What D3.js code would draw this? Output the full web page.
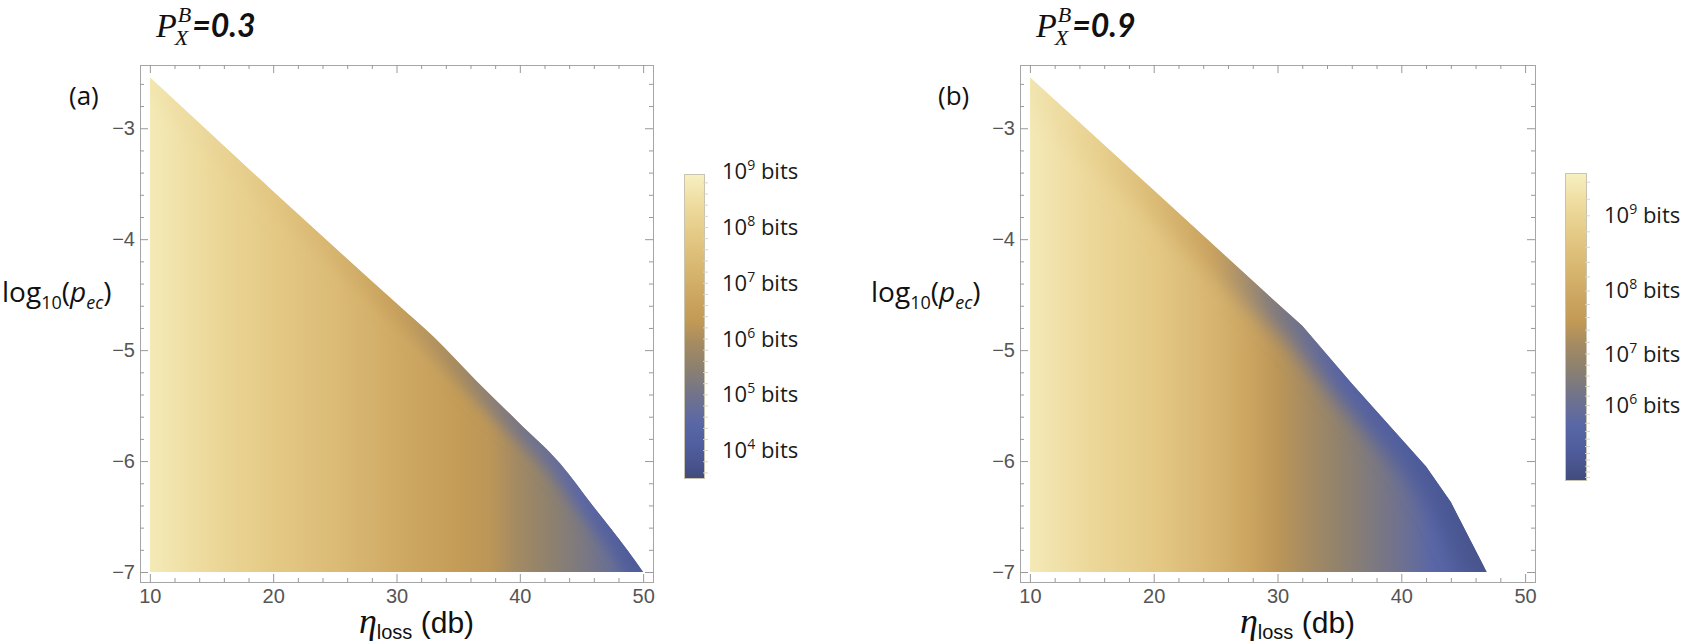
<!DOCTYPE html>
<html lang="en">
<head>
<meta charset="UTF-8">
<title>Secret key bits vs loss and error</title>
<script src="https://cdn.jsdelivr.net/npm/d3@7"></script>
<style>
    html, body { margin: 0; background: #fff; }
    svg { display: block; }
</style>
</head>
<body>
<svg id="chart" width="1694" height="642"></svg>
<script>
// ---- data ----
// panel (a): P_X^B = 0.3
const etaA        = [10, 15, 20, 25, 30, 35, 37.5, 40, 42.5, 45, 47.5, 50];
const bitsBottomA = [8.79, 8.3, 7.86, 7.42, 6.88, 6.39, 6.23, 5.84, 5.52, 5.19, 4.81, 4.15];   // log10 bits at log10 p = -7
const etaEdgeA    = [10, 20, 25, 30, 35, 40, 45, 50];
const bitsEdgeA   = [8.68, 7.75, 7.2, 6.55, 5.9, 5.1, 4.5, 3.94];                           // log10 bits along the upper edge
const edgeEtaA    = [10, 20, 30.3, 33, 36.5, 39.8, 43.25, 45.9, 48.7, 50];
const edgeLogA    = [-2.54, -3.57, -4.61, -4.88, -5.28, -5.64, -6.02, -6.40, -6.80, -7];

// panel (b): P_X^B = 0.9
const etaB        = [10, 15, 20, 25, 28, 30, 33, 35, 37.5, 40, 42.5, 45, 47];
const bitsBottomB = [9.39, 9.06, 8.76, 8.27, 7.83, 7.45, 7.09, 6.82, 6.48, 6.10, 5.55, 5.08, 4.44];
const etaEdgeB    = [10, 15, 20, 25, 30, 35, 40, 45, 47];
const bitsEdgeB   = [9.32, 8.95, 8.43, 7.75, 6.4, 5.4, 4.95, 4.54, 4.33];
const edgeEtaB    = [10, 20, 30, 32, 36, 42, 44, 46.9];
const edgeLogB    = [-2.54, -3.56, -4.58, -4.78, -5.30, -6.05, -6.37, -7];

const xTicks  = [10, 20, 30, 40, 50];
const yTicks  = [-7, -6, -5, -4, -3];
const cbTicksA = [4, 5, 6, 7, 8, 9];
const cbTicksB = [6, 7, 8, 9];

// ---- colour map (from the colour bars) ----
const paletteT      = [0, 0.1, 0.18, 0.28, 0.36, 0.44, 0.52, 0.6, 0.7, 0.8, 0.9, 1];
const paletteColors = ['#414c7c', '#4f5d9e', '#5a67a6', '#73748a', '#8b8070', '#a48a62',
                       '#c39a55', '#cca662', '#d9b872', '#e4c985', '#eedb9e', '#f7f0c2'];
const palette = d3.scaleLinear().domain(paletteT).range(paletteColors).interpolate(d3.interpolateRgb);

const svg = d3.select('#chart');
const defs = svg.append('defs');

const blur = (id, sd) => defs.append('filter').attr('id', id)
    .attr('x', '-20%').attr('y', '-20%').attr('width', '140%').attr('height', '140%')
    .append('feGaussianBlur').attr('stdDeviation', sd);

const frameX = [9.2, 50.8];
const frameY = [-7.09, -2.43];

function drawPanel(cfg) {
    const g = svg.append('g');
    const x = d3.scaleLinear().domain(frameX).range([cfg.left, cfg.right]);
    const y = d3.scaleLinear().domain(frameY).range([cfg.bottom, cfg.top]);
    const cbT = cfg.cbScale.copy().range([0, 1]);
    const colorOf = v => palette(cbT(v));

    // region clip
    const edge = cfg.edgeEta.map((e, i) => [e, cfg.edgeLog[i]]);
    const edgeLine = d3.line().x(d => x(d[0])).y(d => y(d[1])).curve(cfg.curve);
    const edgePath = edgeLine(edge);
    defs.append('clipPath').attr('id', 'clip-' + cfg.id)
        .append('path')
        .attr('d', `M${x(cfg.edgeEta[0])},${y(-7)}L` + edgePath.slice(1) + 'Z');

    // horizontal gradients
    const grad = (id, etas, vals) => {
        const lg = defs.append('linearGradient').attr('id', id)
            .attr('gradientUnits', 'userSpaceOnUse')
            .attr('x1', x(10)).attr('x2', x(50)).attr('y1', 0).attr('y2', 0);
        lg.selectAll('stop').data(etas).join('stop')
            .attr('offset', e => (e - 10) / 40)
            .attr('stop-color', (e, i) => colorOf(vals[i]));
    };
    grad('fill-' + cfg.id, cfg.eta, cfg.bitsBottom);
    grad('edge-' + cfg.id, cfg.etaEdge, cfg.bitsEdge);
    blur('blur-' + cfg.id, cfg.bandBlur);

    const field = g.append('g').attr('clip-path', `url(#clip-${cfg.id})`);
    field.append('rect')
        .attr('x', x(10)).attr('y', y(frameY[1]))
        .attr('width', x(50) - x(10)).attr('height', y(-7) - y(frameY[1]))
        .attr('fill', `url(#fill-${cfg.id})`);
    field.append('path')
        .attr('d', edgePath)
        .attr('fill', 'none')
        .attr('stroke', `url(#edge-${cfg.id})`)
        .attr('stroke-width', cfg.band)
        .attr('filter', `url(#blur-${cfg.id})`);

    // frame and ticks
    const tickCol = '#999';
    g.append('rect')
        .attr('x', cfg.left + 0.5).attr('y', cfg.top + 0.5)
        .attr('width', cfg.right - cfg.left).attr('height', cfg.bottom - cfg.top)
        .attr('fill', 'none').attr('stroke', '#a6a6a6');

    const minorX = d3.range(10, 51, 2).filter(v => v % 10);
    const minorY = d3.range(-35, -12).filter(i => i % 5).map(i => i / 5);

    const style = sel => {
        sel.select('.domain').remove();
        sel.selectAll('line').attr('stroke', tickCol);
        sel.selectAll('text').attr('fill', '#555').attr('font-family', 'Liberation Sans, Arial, sans-serif')
            .attr('font-size', 20);
    };
    const add = (axis, tx, ty) => g.append('g').attr('transform', `translate(${tx},${ty})`).call(axis).call(style);
    const fmt = d3.format('d');

    add(d3.axisBottom(x).tickValues(xTicks).tickSize(-8).tickPadding(7).tickFormat(fmt), 0, cfg.bottom);
    add(d3.axisBottom(x).tickValues(minorX).tickSize(-4).tickFormat(''), 0, cfg.bottom);
    add(d3.axisTop(x).tickValues(xTicks).tickSize(-8).tickFormat(''), 0, cfg.top);
    add(d3.axisTop(x).tickValues(minorX).tickSize(-4).tickFormat(''), 0, cfg.top);
    add(d3.axisLeft(y).tickValues(yTicks).tickSize(-8).tickPadding(5).tickFormat(fmt), cfg.left, 0);
    add(d3.axisLeft(y).tickValues(minorY).tickSize(-4).tickFormat(''), cfg.left, 0);
    add(d3.axisRight(y).tickValues(yTicks).tickSize(-8).tickFormat(''), cfg.right, 0);
    add(d3.axisRight(y).tickValues(minorY).tickSize(-4).tickFormat(''), cfg.right, 0);

    // colour bar
    const cb = cfg.cb;
    const cbY = cfg.cbScale.copy().range([cb.bottom, cb.top]);
    const vg = defs.append('linearGradient').attr('id', 'cb-' + cfg.id)
        .attr('x1', 0).attr('y1', 1).attr('x2', 0).attr('y2', 0);
    vg.selectAll('stop').data(paletteT).join('stop')
        .attr('offset', d => d).attr('stop-color', d => palette(d));
    g.append('rect')
        .attr('x', cb.x + 0.5).attr('y', cb.top + 0.5)
        .attr('width', cb.w).attr('height', cb.bottom - cb.top)
        .attr('fill', `url(#cb-${cfg.id})`).attr('stroke', '#c8c4b0');
    const dom = cfg.cbScale.domain();
    const cbMinor = d3.range(Math.ceil(dom[0] * 5), Math.floor(dom[1] * 5) + 1).map(i => i / 5);
    g.append('g').selectAll('line').data(cbMinor).join('line')
        .attr('x1', cb.x + cb.w - 1).attr('x2', cb.x + cb.w + 4)
        .attr('y1', d => cbY(d) + 0.5).attr('y2', d => cbY(d) + 0.5)
        .attr('stroke', '#d4d4d4');
    const lab = g.append('g').selectAll('text').data(cfg.cbTicks).join('text')
        .attr('x', cb.x + cb.w + 18).attr('y', d => cbY(d) + 8)
        .attr('font-family', 'Open Sans, sans-serif').attr('font-size', 22).attr('fill', '#1a1a1a');
    lab.append('tspan').text('10');
    lab.append('tspan').attr('font-size', 14).attr('dy', -9).text(d => d);
    lab.append('tspan').attr('dy', 9).text(' bits');

    // panel letter
    g.append('text').attr('x', cfg.letterX).attr('y', 105)
        .attr('font-family', 'Open Sans, sans-serif').attr('font-size', 26).attr('fill', '#111')
        .text(cfg.letter);

    // y title
    const yt = g.append('text').attr('x', cfg.yTitleX).attr('y', 302)
        .attr('font-family', 'Open Sans, sans-serif').attr('font-size', 28).attr('fill', '#111');
    yt.append('tspan').text('log');
    yt.append('tspan').attr('font-size', 18).attr('dy', 7).text('10');
    yt.append('tspan').attr('dy', -7).text('(');
    yt.append('tspan').attr('font-style', 'italic').text('p');
    yt.append('tspan').attr('font-size', 18).attr('font-style', 'italic').attr('dy', 7).text('ec');
    yt.append('tspan').attr('dy', -7).text(')');

    // x title
    const xt = g.append('text').attr('x', x(30) + 20).attr('y', 633).attr('text-anchor', 'middle')
        .attr('fill', '#111').attr('font-family', 'Liberation Sans, Arial, sans-serif');
    xt.append('tspan').attr('font-family', 'Liberation Serif, serif').attr('font-style', 'italic')
        .attr('font-size', 36).text('η');
    xt.append('tspan').attr('font-size', 20).attr('dy', 6).text('loss');
    xt.append('tspan').attr('font-size', 30).attr('dy', -6).text(' (db)');

    // title P_X^B = value
    const tg = g.append('g').attr('fill', '#111');
    const P = tg.append('text').attr('x', cfg.titleX).attr('y', 37)
        .attr('font-family', 'Liberation Serif, serif').attr('font-style', 'italic').attr('font-size', 34).text('P');
    const pw = P.node().getComputedTextLength();
    const B = tg.append('text').attr('x', cfg.titleX + pw + 1).attr('y', 22)
        .attr('font-family', 'Liberation Serif, serif').attr('font-style', 'italic').attr('font-size', 22).text('B');
    const X = tg.append('text').attr('x', cfg.titleX + pw - 2).attr('y', 45)
        .attr('font-family', 'Liberation Serif, serif').attr('font-style', 'italic').attr('font-size', 22).text('X');
    const sw = Math.max(B.node().getComputedTextLength() + 3, X.node().getComputedTextLength());
    tg.append('text').attr('x', cfg.titleX + pw + sw - 1).attr('y', 37)
        .attr('font-family', 'Lato, sans-serif').attr('font-style', 'italic').attr('font-weight', 'bold')
        .attr('font-size', 32).text('=' + cfg.pxb);
}

drawPanel({
    id: 'a', letter: '(a)', pxb: '0.3',
    left: 140, right: 653, top: 65, bottom: 582,
    eta: etaA, bitsBottom: bitsBottomA, etaEdge: etaEdgeA, bitsEdge: bitsEdgeA,
    edgeEta: edgeEtaA, edgeLog: edgeLogA, curve: d3.curveMonotoneX,
    band: 28, bandBlur: 7,
    cbScale: d3.scaleLinear().domain([3.5, 8.95]),
    cbTicks: cbTicksA,
    cb: { x: 684, w: 20, top: 174, bottom: 478 },
    letterX: 69, yTitleX: 2, titleX: 156
});

drawPanel({
    id: 'b', letter: '(b)', pxb: '0.9',
    left: 1020, right: 1535, top: 65, bottom: 582,
    eta: etaB, bitsBottom: bitsBottomB, etaEdge: etaEdgeB, bitsEdge: bitsEdgeB,
    edgeEta: edgeEtaB, edgeLog: edgeLogB, curve: d3.curveLinear,
    band: 42, bandBlur: 10,
    cbScale: d3.scalePow().exponent(2.4).domain([3.88, 9.5]),
    cbTicks: cbTicksB,
    cb: { x: 1565, w: 21, top: 173, bottom: 480 },
    letterX: 938, yTitleX: 871, titleX: 1036
});
</script>
</body>
</html>
